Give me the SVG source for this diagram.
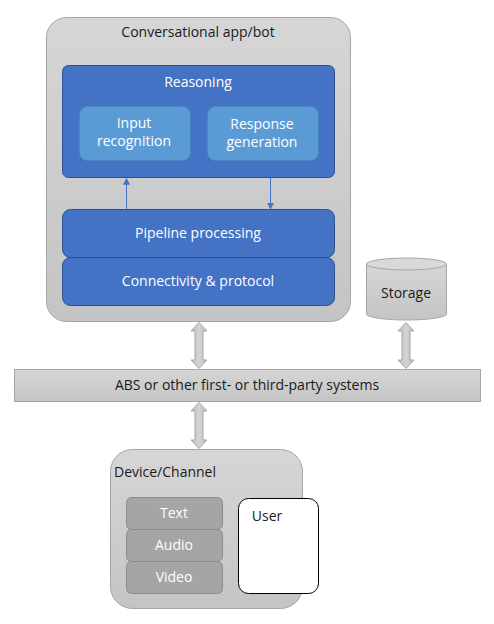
<svg xmlns="http://www.w3.org/2000/svg" width="494" height="624" viewBox="0 0 494 624">
<defs>
<linearGradient id="gg" x1="0" y1="0" x2="0" y2="1"><stop offset="0" stop-color="#d6d6d6"/><stop offset="1" stop-color="#c4c4c4"/></linearGradient>
<linearGradient id="ga" x1="0" y1="0" x2="1" y2="0"><stop offset="0" stop-color="#bdbdbd"/><stop offset="0.5" stop-color="#d4d4d4"/><stop offset="1" stop-color="#bdbdbd"/></linearGradient>
<marker id="ah" viewBox="0 0 10 10" refX="9" refY="5" markerWidth="7" markerHeight="7" markerUnits="userSpaceOnUse" orient="auto"><path d="M0,0L10,5L0,10z" fill="#4472c4"/></marker>
</defs>
<style>
.grey{fill:url(#gg);stroke:#a6a6a6;stroke-width:1}
.blue{fill:#4472c4;stroke:#2f528f;stroke-width:1}
.light{fill:#5b9bd5;stroke:#4a86c0;stroke-width:1}
.dark{fill:#a5a5a5;stroke:#8c8c8c;stroke-width:1}
.dbl{fill:url(#ga);stroke:#a6a6a6;stroke-width:1}
text{font-family:"Segoe UI","Open Sans","Noto Sans","Liberation Sans",sans-serif;font-size:14px;text-anchor:middle;dominant-baseline:central}
.w{fill:#ffffff}
.k{fill:#1a1a1a}
</style>
<g id="app">
<rect x="46.5" y="17.5" width="304" height="304" rx="20" class="grey"/>
<text x="198" y="31.5" class="k">Conversational app/bot</text>
</g>
<g id="reasoning">
<rect x="62.5" y="65.5" width="272" height="112" rx="6" class="blue"/>
<text x="198" y="81.5" class="w">Reasoning</text>
</g>
<g id="input">
<rect x="79.5" y="106.5" width="111" height="54" rx="8" class="light"/>
<text x="134" y="122.5" class="w">Input</text>
<text x="134" y="140.5" class="w">recognition</text>
</g>
<g id="response">
<rect x="207.5" y="106.5" width="111" height="54" rx="8" class="light"/>
<text x="262" y="123.5" class="w">Response</text>
<text x="262" y="141.5" class="w">generation</text>
</g>
<g id="pipeline">
<rect x="62.5" y="209.5" width="272" height="48" rx="8" class="blue"/>
<text x="198" y="232.5" class="w">Pipeline processing</text>
</g>
<g id="connectivity">
<rect x="62.5" y="257.5" width="272" height="48" rx="8" class="blue"/>
<text x="198" y="280.5" class="w">Connectivity &amp; protocol</text>
</g>
<g id="storage">
<path d="M366.5,264 L366.5,314 A40,6 0 0 0 446.5,314 L446.5,264" class="grey"/>
<ellipse cx="406.5" cy="264" rx="40" ry="6" fill="#d9d9d9" stroke="#a6a6a6"/>
<text x="406" y="292.5" class="k">Storage</text>
</g>
<g id="abs">
<rect x="14.5" y="369.5" width="466" height="32" class="grey"/>
<text x="247" y="384.5" class="k">ABS or other first- or third-party systems</text>
</g>
<g id="device">
<rect x="110.5" y="449.5" width="192" height="159" rx="22" class="grey"/>
<text x="165" y="471.5" class="k">Device/Channel</text>
</g>
<g id="text">
<rect x="126.5" y="497.5" width="96" height="32" rx="5" class="dark"/>
<text x="174" y="512.5" class="w">Text</text>
</g>
<g id="audio">
<rect x="126.5" y="529.5" width="96" height="32" rx="5" class="dark"/>
<text x="174" y="544.5" class="w">Audio</text>
</g>
<g id="video">
<rect x="126.5" y="561.5" width="96" height="32" rx="5" class="dark"/>
<text x="174" y="576.5" class="w">Video</text>
</g>
<g id="user">
<rect x="238.5" y="498.5" width="80" height="95" rx="10" fill="#ffffff" stroke="#000000"/>
<text x="267" y="515.5" class="k">User</text>
</g>
<g id="connectors">
<line x1="126.5" y1="209" x2="126.5" y2="178.5" stroke="#4472c4" stroke-width="1" marker-end="url(#ah)"/>
<line x1="270.5" y1="178" x2="270.5" y2="209" stroke="#4472c4" stroke-width="1" marker-end="url(#ah)"/>
<path d="M199,322.5 L207,331 L203,331 L203,360 L207,360 L199,368.5 L191,360 L195,360 L195,331 L191,331 Z" class="dbl"/>
<path d="M406,322.5 L414,331 L410,331 L410,360 L414,360 L406,368.5 L398,360 L402,360 L402,331 L398,331 Z" class="dbl"/>
<path d="M199,402.5 L207,411 L203,411 L203,440 L207,440 L199,448.5 L191,440 L195,440 L195,411 L191,411 Z" class="dbl"/>
</g>
</svg>
